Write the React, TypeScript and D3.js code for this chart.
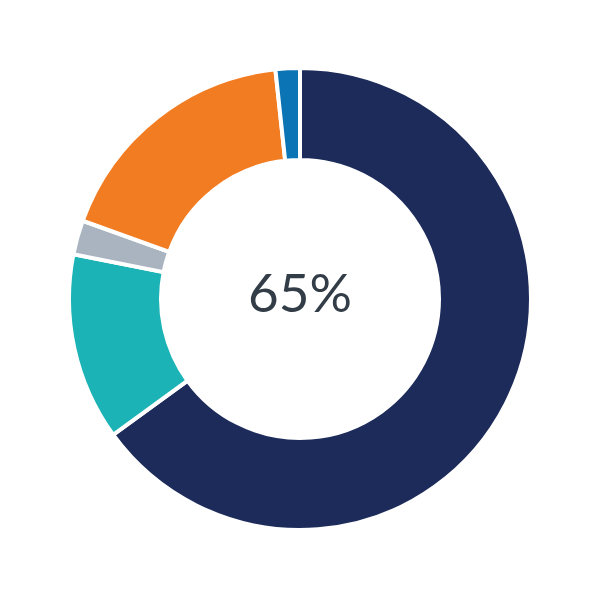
import React from "react";
import * as d3 from "d3";

const categories = ["A", "B", "C", "D", "E"];
const values = [65, 13.1, 2.4, 17.8, 1.7];
const colors = ["#1c2b5a", "#1bb3b5", "#a9b4c0", "#f27c22", "#0b74b4"];
const centerLabel = "65%";

export default function App() {
  const width = 600;
  const height = 599;
  const cx = 300;
  const cy = 299;
  const outer = 231;
  const inner = 139;
  const pie = d3.pie<number>().sort(null).value((d) => d);
  const arcs = pie(values);
  const arc = d3.arc<d3.PieArcDatum<number>>().innerRadius(inner).outerRadius(outer);
  return (
    <svg
      width={width}
      height={height}
      style={{ position: "absolute", left: 0, top: 0, background: "#fff" }}
    >
      <g transform={`translate(${cx},${cy})`}>
        {arcs.map((a, i) => (
          <path
            key={categories[i]}
            d={arc(a) || ""}
            fill={colors[i]}
            stroke="#fff"
            strokeWidth={4}
            strokeLinejoin="miter"
          />
        ))}
        <text
          x={0}
          y={13}
          textAnchor="middle"
          fontFamily="Lato"
          fontWeight={400}
          fontSize={53}
          fill="#333d47"
        >
          {centerLabel}
        </text>
      </g>
    </svg>
  );
}
